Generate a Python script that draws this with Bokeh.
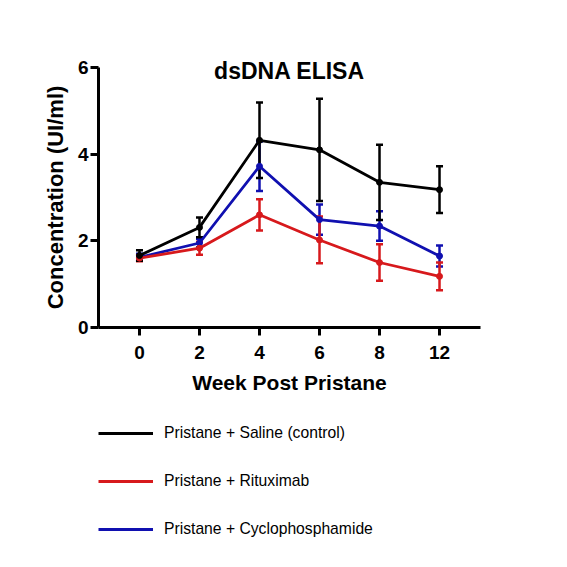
from bokeh.embed import file_html
from bokeh.resources import INLINE
from bokeh.layouts import column
from bokeh.models import (ColumnDataSource, FactorRange, Range1d, Whisker, TeeHead,
                          Legend, LegendItem, FixedTicker)
from bokeh.plotting import figure

# weeks after pristane injection
weeks = ["0", "2", "4", "6", "8", "12"]

# mean concentration (UI/ml) and error per group
saline = [1.66, 2.31, 4.32, 4.10, 3.35, 3.18]
saline_err = [0.12, 0.23, 0.87, 1.18, 0.87, 0.54]

rituximab = [1.60, 1.83, 2.60, 2.02, 1.50, 1.18]
rituximab_err = [0.07, 0.15, 0.36, 0.54, 0.42, 0.32]

cyclo = [1.62, 1.95, 3.72, 2.49, 2.34, 1.65]
cyclo_err = [0.08, 0.10, 0.57, 0.35, 0.34, 0.24]

labels = ["Pristane + Saline (control)", "Pristane + Rituximab", "Pristane + Cyclophosphamide"]
colors = ["#000000", "#d7191c", "#1010b0"]

FONT = "Liberation Sans"

p = figure(width=550, height=400, output_backend="svg", toolbar_location=None,
           x_range=FactorRange(factors=weeks, range_padding=0.183, range_padding_units="absolute"),
           y_range=Range1d(0, 6),
           title="dsDNA ELISA",
           x_axis_label="Week Post Pristane", y_axis_label="Concentration (UI/ml)",
           min_border_left=98, min_border_right=70, min_border_top=67, min_border_bottom=73)

p.title.align = "center"
p.title.text_font = FONT
p.title.text_font_size = "23px"
p.title.text_font_style = "bold"
p.title.text_color = "black"
p.title.offset = 0
p.title.standoff = -32

p.grid.visible = False
p.outline_line_color = None
p.background_fill_color = "white"

for ax in (p.xaxis, p.yaxis):
    ax.axis_line_width = 3
    ax.axis_line_color = "black"
    ax.major_tick_line_width = 3
    ax.major_tick_line_color = "black"
    ax.major_tick_out = 8
    ax.major_tick_in = 0
    ax.minor_tick_line_color = None
    ax.major_label_text_font = FONT
    ax.major_label_text_font_style = "bold"
    ax.major_label_text_font_size = "19px"
    ax.major_label_text_color = "black"
    ax.axis_label_text_font = FONT
    ax.axis_label_text_font_style = "bold"
    ax.axis_label_text_color = "black"

p.xaxis.axis_label_text_font_size = "21px"
p.yaxis.axis_label_text_font_size = "22px"
p.yaxis.ticker = FixedTicker(ticks=[0, 2, 4, 6])
p.yaxis.major_label_standoff = 2
p.yaxis.axis_label_standoff = 7
p.xaxis.major_label_standoff = 10
p.xaxis.axis_label_standoff = 9

series = [(saline, saline_err), (rituximab, rituximab_err), (cyclo, cyclo_err)]
for i in [2, 1, 0]:
    vals, errs = series[i]
    src = ColumnDataSource(data=dict(
        x=weeks, y=vals,
        upper=[v + e for v, e in zip(vals, errs)],
        lower=[v - e for v, e in zip(vals, errs)],
    ))
    w = Whisker(base="x", upper="upper", lower="lower", source=src,
                line_color=colors[i], line_width=2.5,
                upper_head=TeeHead(size=7, line_color=colors[i], line_width=2.5),
                lower_head=TeeHead(size=7, line_color=colors[i], line_width=2.5))
    p.add_layout(w)
    p.line("x", "y", source=src, line_color=colors[i], line_width=2.8)
    p.scatter("x", "y", source=src, size=6, color=colors[i])

# legend lives in a second, axis-less figure under the chart
leg = figure(width=550, height=150, output_backend="svg", toolbar_location=None,
             x_range=Range1d(0, 1), y_range=Range1d(0, 1),
             min_border=0, outline_line_color=None)
leg.axis.visible = False
leg.grid.visible = False
items = []
for i in range(3):
    # placeholder line kept outside the visible range, only used for the legend swatch
    r = leg.line(x=[5, 6], y=[5, 5], line_color=colors[i], line_width=3)
    items.append(LegendItem(label=labels[i], renderers=[r]))

legend = Legend(items=items, location=(0, 11), padding=0, margin=0, spacing=28,
                glyph_width=55, glyph_height=20, label_height=20, label_standoff=11,
                border_line_color=None, background_fill_alpha=0,
                label_text_font=FONT, label_text_font_size="15.7px", label_text_color="black")
leg.add_layout(legend, "center")

open("out.html", "w").write(file_html(column(p, leg), INLINE))
